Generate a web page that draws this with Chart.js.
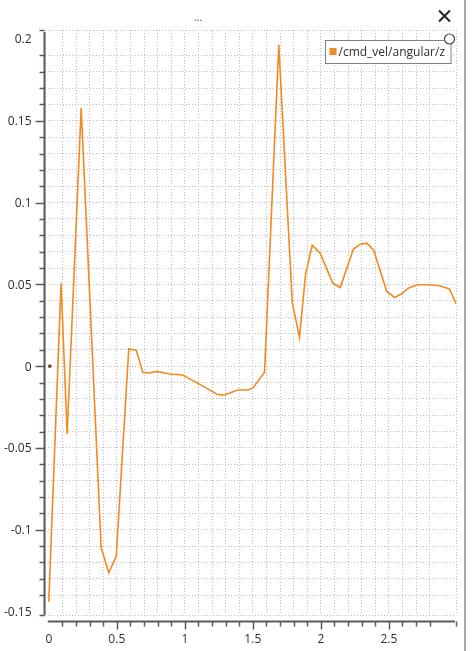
<!DOCTYPE html>
<html lang="en">
<head>
  <meta charset="UTF-8" />
  <title>/cmd_vel/angular/z</title>
  <script src="https://cdn.jsdelivr.net/npm/chart.js"></script>
  <style>
    body {
      margin: 0;
      padding: 0;
      background-color: #ffffff;
    }

    #plotBox {
      width: 474px;
      height: 651px;
      position: relative;
    }
  </style>
</head>
<body>

  <div id="plotBox">
    <canvas id="plot" width="474" height="651"></canvas>
  </div>

  <script>
    // series
    const seriesName = '/cmd_vel/angular/z';
    const timeValues = [
      0, 0.09, 0.135, 0.238, 0.385, 0.441, 0.496, 0.588, 0.643, 0.691,
      0.740, 0.790, 0.887, 0.985, 1.084, 1.169, 1.243, 1.292, 1.390, 1.463,
      1.500, 1.586, 1.691, 1.790, 1.843, 1.888, 1.937, 1.996, 2.088, 2.143,
      2.240, 2.290, 2.338, 2.388, 2.485, 2.542, 2.591, 2.652, 2.713, 2.787,
      2.873, 2.946, 2.996
    ];
    const angularZ = [
      -0.144, 0.0506, -0.0414, 0.1578, -0.1110, -0.1263, -0.1161, 0.0105, 0.0098, -0.0038,
      -0.0042, -0.0032, -0.0048, -0.0054, -0.0099, -0.0139, -0.0174, -0.0176, -0.0146, -0.0146,
      -0.0133, -0.0038, 0.1964, 0.0390, 0.0176, 0.0563, 0.0740, 0.0689, 0.0508, 0.0481,
      0.0716, 0.0746, 0.0752, 0.0710, 0.0457, 0.0420, 0.0441, 0.0481, 0.0498, 0.0498,
      0.0492, 0.0472, 0.0380
    ];

    // tick labels
    const xTickLabels = ['0', '0.5', '1', '1.5', '2', '2.5'];
    const yTickLabels = ['0.2', '0.15', '0.1', '0.05', '0', '-0.05', '-0.1', '-0.15'];

    const lineColor = '#f28a22';
    const labelFont = '12px "Open Sans", sans-serif';

    function isMultiple(v, step) {
      const r = Math.abs(v / step - Math.round(v / step));
      return r < 1e-6;
    }

    // axes, ticks, legend and window bits in the Qt plot style
    const qtDecor = {
      id: 'qtDecor',
      afterDraw(chart) {
        const ctx = chart.ctx;
        const xs = chart.scales.x;
        const ys = chart.scales.y;
        const area = chart.chartArea;
        ctx.save();

        // y axis
        const ax = area.left - 0.5;
        ctx.strokeStyle = '#5a5a5a';
        ctx.lineWidth = 2;
        ctx.beginPath();
        ctx.moveTo(ax, area.top + 2);
        ctx.lineTo(ax, area.bottom);
        ctx.stroke();

        ctx.lineWidth = 1.5;
        ys.ticks.forEach(t => {
          const py = Math.round(ys.getPixelForValue(t.value)) + 0.5;
          const len = isMultiple(t.value, 0.05) ? 9 : 5;
          ctx.beginPath();
          ctx.moveTo(ax - len, py);
          ctx.lineTo(ax, py);
          ctx.stroke();
        });

        // x axis, drawn a little under the plot
        const ay = area.bottom + 6.5;
        const x0 = xs.getPixelForValue(0);
        ctx.lineWidth = 2;
        ctx.beginPath();
        ctx.moveTo(x0 - 1, ay);
        ctx.lineTo(area.right - 1, ay);
        ctx.stroke();

        ctx.lineWidth = 1.5;
        xs.ticks.forEach(t => {
          if (t.value < 0) return;
          const px = Math.round(xs.getPixelForValue(t.value)) + 0.5;
          const len = isMultiple(t.value, 0.5) ? 8 : 5;
          ctx.beginPath();
          ctx.moveTo(px, ay);
          ctx.lineTo(px, ay + len);
          ctx.stroke();
        });

        // labels
        ctx.fillStyle = '#2e2e2e';
        ctx.font = labelFont;
        ctx.textAlign = 'right';
        ctx.textBaseline = 'middle';
        yTickLabels.forEach(s => {
          ctx.fillText(s, ax - 13, ys.getPixelForValue(Number(s)) + 1);
        });
        ctx.textAlign = 'center';
        xTickLabels.forEach(s => {
          ctx.fillText(s, xs.getPixelForValue(Number(s)), ay + 18);
        });

        // small marker near the origin
        ctx.fillStyle = '#5c3d12';
        ctx.fillRect(xs.getPixelForValue(0) - 0.5, ys.getPixelForValue(0) - 1.5, 3, 3);

        // legend
        ctx.font = labelFont;
        const tw = ctx.measureText(seriesName).width;
        const bx = 325.5, by = 40.5, bh = 23;
        const bw = tw + 19;
        ctx.fillStyle = '#ffffff';
        ctx.fillRect(bx, by, bw, bh);
        ctx.strokeStyle = '#808080';
        ctx.lineWidth = 1;
        ctx.strokeRect(bx, by, bw, bh);
        ctx.fillStyle = lineColor;
        ctx.fillRect(bx + 4, by + 7.5, 7, 7);
        ctx.fillStyle = '#2e2e2e';
        ctx.textAlign = 'left';
        ctx.fillText(seriesName, bx + 13, by + bh / 2 + 0.5);

        // corner handle
        ctx.beginPath();
        ctx.arc(449.5, 39, 5, 0, Math.PI * 2);
        ctx.fillStyle = '#ffffff';
        ctx.fill();
        ctx.strokeStyle = '#444444';
        ctx.lineWidth = 1.2;
        ctx.stroke();

        // title dots and close cross
        ctx.fillStyle = '#444444';
        ctx.font = '11px "Open Sans", sans-serif';
        ctx.textAlign = 'center';
        ctx.textBaseline = 'alphabetic';
        ctx.fillText('...', 198, 21);

        ctx.strokeStyle = '#222222';
        ctx.lineWidth = 2;
        ctx.beginPath();
        ctx.moveTo(439, 10.5);
        ctx.lineTo(450, 21.5);
        ctx.moveTo(450, 10.5);
        ctx.lineTo(439, 21.5);
        ctx.stroke();

        // right edge splitter
        ctx.strokeStyle = '#a8a8a8';
        ctx.lineWidth = 2;
        ctx.beginPath();
        ctx.moveTo(465, 0);
        ctx.lineTo(465, chart.height);
        ctx.stroke();

        ctx.restore();
      }
    };

    const points = timeValues.map((t, i) => ({ x: t, y: angularZ[i] }));

    new Chart(document.getElementById('plot').getContext('2d'), {
      type: 'line',
      data: {
        datasets: [{
          label: seriesName,
          data: points,
          borderColor: lineColor,
          borderWidth: 1.6,
          pointRadius: 0,
          tension: 0,
          fill: false
        }]
      },
      options: {
        responsive: false,
        animation: false,
        layout: {
          padding: { left: 45, right: 18, top: 30, bottom: 36 }
        },
        plugins: {
          legend: { display: false },
          tooltip: { enabled: false }
        },
        scales: {
          x: {
            type: 'linear',
            min: -0.028,
            max: 2.994,
            afterFit: s => { s.height = 0; },
            ticks: { display: false, stepSize: 0.1, autoSkip: false },
            grid: { color: '#bdbdbd', lineWidth: 1, drawTicks: false },
            border: { display: false, dash: [1, 2] }
          },
          y: {
            type: 'linear',
            min: -0.1521,
            max: 0.2055,
            afterFit: s => { s.width = 0; },
            ticks: { display: false, stepSize: 0.01, autoSkip: false },
            grid: { color: '#bdbdbd', lineWidth: 1, drawTicks: false },
            border: { display: false, dash: [1, 2] }
          }
        }
      },
      plugins: [qtDecor]
    });
  </script>
</body>
</html>
